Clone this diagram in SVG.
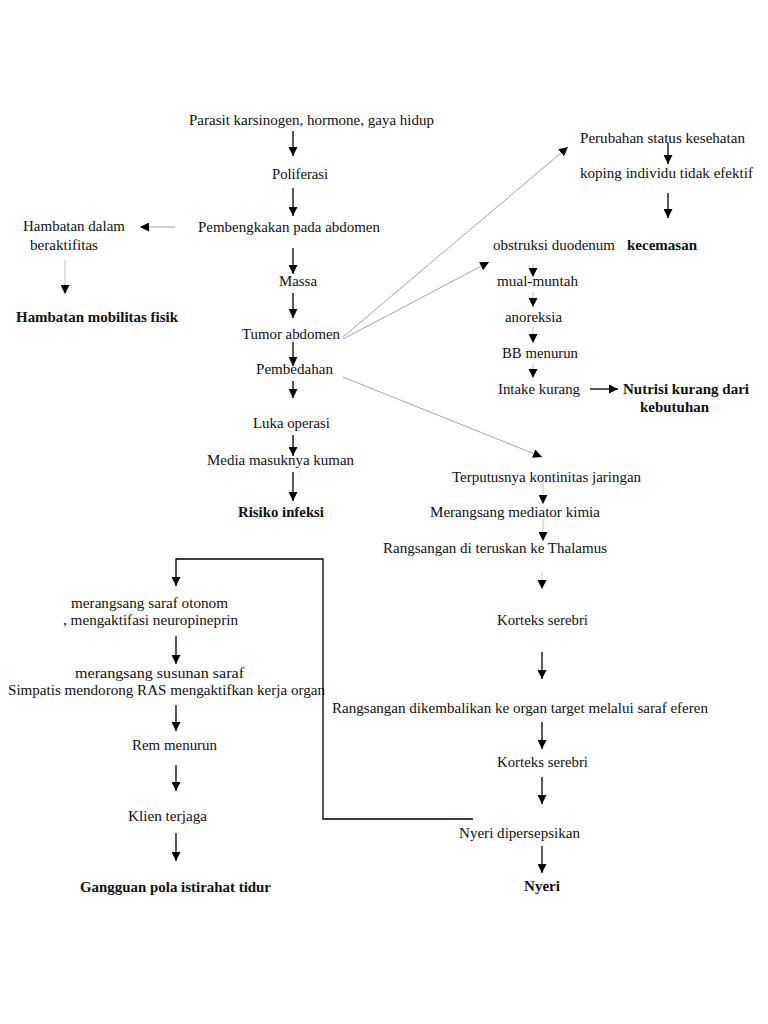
<svg xmlns="http://www.w3.org/2000/svg" width="768" height="1024" viewBox="0 0 768 1024">
<style>
text{font-family:"Liberation Serif","Times New Roman",serif;font-size:14px;fill:#111}
.b{font-weight:bold}
.k{stroke:#000;stroke-width:1.3;fill:none}
.g{stroke:#999;stroke-width:0.9;fill:none}
.lg{stroke:#bbb;stroke-width:0.9;fill:none}
</style>
<defs>
<marker id="ah" markerUnits="userSpaceOnUse" markerWidth="9" markerHeight="9" refX="8" refY="4" orient="auto" viewBox="0 0 8 8">
<path d="M0,0 L8,4 L0,8 z" fill="#000"/>
</marker>
</defs>
<rect width="768" height="1024" fill="#fff"/>

<g id="connectors">
<line class="k" x1="293" y1="131" x2="293" y2="156" marker-end="url(#ah)"/>
<line class="k" x1="293" y1="188" x2="293" y2="216" marker-end="url(#ah)"/>
<line class="g" x1="175" y1="227" x2="140" y2="227" marker-end="url(#ah)"/>
<line class="lg" x1="65" y1="260" x2="65" y2="294" marker-end="url(#ah)"/>
<line class="k" x1="293" y1="248" x2="293" y2="274" marker-end="url(#ah)"/>
<line class="k" x1="293" y1="293" x2="293" y2="318" marker-end="url(#ah)"/>
<line class="k" x1="293" y1="342" x2="293" y2="366" marker-end="url(#ah)"/>
<line class="k" x1="293" y1="381" x2="293" y2="398" marker-end="url(#ah)"/>
<line class="k" x1="293" y1="435" x2="293" y2="456" marker-end="url(#ah)"/>
<line class="k" x1="293" y1="472" x2="293" y2="501" marker-end="url(#ah)"/>
<line class="g" x1="343" y1="337" x2="568" y2="147" marker-end="url(#ah)"/>
<line class="g" x1="343" y1="339" x2="489" y2="262" marker-end="url(#ah)"/>
<line class="g" x1="343" y1="377" x2="542" y2="457" marker-end="url(#ah)"/>
<line class="k" x1="668" y1="143" x2="668" y2="164" marker-end="url(#ah)"/>
<line class="k" x1="668" y1="193" x2="668" y2="218" marker-end="url(#ah)"/>
<line class="lg" x1="533" y1="264" x2="533" y2="277" marker-end="url(#ah)"/>
<line class="lg" x1="533" y1="292" x2="533" y2="307" marker-end="url(#ah)"/>
<line class="lg" x1="533" y1="327" x2="533" y2="343" marker-end="url(#ah)"/>
<line class="lg" x1="533" y1="363" x2="533" y2="378" marker-end="url(#ah)"/>
<line class="k" x1="590" y1="389" x2="618" y2="389" marker-end="url(#ah)"/>
<line class="lg" x1="543" y1="482" x2="543" y2="504" marker-end="url(#ah)"/>
<line class="lg" x1="543" y1="519" x2="543" y2="541" marker-end="url(#ah)"/>
<line class="lg" x1="542" y1="572" x2="542" y2="589" marker-end="url(#ah)"/>
<line class="k" x1="542" y1="652" x2="542" y2="679" marker-end="url(#ah)"/>
<line class="k" x1="542" y1="722" x2="542" y2="749" marker-end="url(#ah)"/>
<line class="k" x1="542" y1="777" x2="542" y2="804" marker-end="url(#ah)"/>
<line class="k" x1="542" y1="846" x2="542" y2="873" marker-end="url(#ah)"/>
<polyline class="k" points="473,819 323,819 323,559 176,559 176,586" marker-end="url(#ah)"/>
<line class="k" x1="176" y1="636" x2="176" y2="664" marker-end="url(#ah)"/>
<line class="k" x1="176" y1="705" x2="176" y2="731" marker-end="url(#ah)"/>
<line class="k" x1="176" y1="765" x2="176" y2="791" marker-end="url(#ah)"/>
<line class="k" x1="176" y1="833" x2="176" y2="861" marker-end="url(#ah)"/>
</g>

<g id="n-parasit"><text x="189" y="125" textLength="245" lengthAdjust="spacingAndGlyphs">Parasit karsinogen, hormone, gaya hidup</text></g>
<g id="n-poliferasi"><text x="272" y="179" textLength="56" lengthAdjust="spacingAndGlyphs">Poliferasi</text></g>
<g id="n-pembengkakan"><text x="198" y="232" textLength="182" lengthAdjust="spacingAndGlyphs">Pembengkakan pada abdomen</text></g>
<g id="n-hambatan"><text x="23" y="231" textLength="102" lengthAdjust="spacingAndGlyphs">Hambatan dalam</text><text x="30" y="250" textLength="68" lengthAdjust="spacingAndGlyphs">beraktifitas</text></g>
<g id="n-mobilitas"><text class="b" x="16" y="322" textLength="162" lengthAdjust="spacingAndGlyphs">Hambatan mobilitas fisik</text></g>
<g id="n-massa"><text x="279" y="286" textLength="38" lengthAdjust="spacingAndGlyphs">Massa</text></g>
<g id="n-tumor"><text x="242" y="339" textLength="98" lengthAdjust="spacingAndGlyphs">Tumor abdomen</text></g>
<g id="n-pembedahan"><text x="256" y="374" textLength="77" lengthAdjust="spacingAndGlyphs">Pembedahan</text></g>
<g id="n-luka"><text x="253" y="428" textLength="77" lengthAdjust="spacingAndGlyphs">Luka operasi</text></g>
<g id="n-media"><text x="207" y="465" textLength="147" lengthAdjust="spacingAndGlyphs">Media masuknya kuman</text></g>
<g id="n-risiko"><text class="b" x="238" y="517" textLength="86" lengthAdjust="spacingAndGlyphs">Risiko infeksi</text></g>

<g id="n-perubahan"><text x="580" y="143" textLength="165" lengthAdjust="spacingAndGlyphs">Perubahan status kesehatan</text></g>
<g id="n-koping"><text x="580" y="178" textLength="173" lengthAdjust="spacingAndGlyphs">koping individu tidak efektif</text></g>
<g id="n-obstruksi"><text x="493" y="250" textLength="122" lengthAdjust="spacingAndGlyphs">obstruksi duodenum</text></g>
<g id="n-kecemasan"><text class="b" x="627" y="250" textLength="70" lengthAdjust="spacingAndGlyphs">kecemasan</text></g>
<g id="n-mual"><text x="497" y="286" textLength="81" lengthAdjust="spacingAndGlyphs">mual-muntah</text></g>
<g id="n-anoreksia"><text x="505" y="322" textLength="57" lengthAdjust="spacingAndGlyphs">anoreksia</text></g>
<g id="n-bb"><text x="502" y="358" textLength="76" lengthAdjust="spacingAndGlyphs">BB menurun</text></g>
<g id="n-intake"><text x="498" y="394" textLength="82" lengthAdjust="spacingAndGlyphs">Intake kurang</text></g>
<g id="n-nutrisi"><text class="b" x="623" y="394" textLength="126" lengthAdjust="spacingAndGlyphs">Nutrisi kurang dari</text><text class="b" x="640" y="412" textLength="69" lengthAdjust="spacingAndGlyphs">kebutuhan</text></g>

<g id="n-terputus"><text x="452" y="482" textLength="189" lengthAdjust="spacingAndGlyphs">Terputusnya kontinitas jaringan</text></g>
<g id="n-mediator"><text x="430" y="517" textLength="170" lengthAdjust="spacingAndGlyphs">Merangsang mediator kimia</text></g>
<g id="n-thalamus"><text x="383" y="553" textLength="224" lengthAdjust="spacingAndGlyphs">Rangsangan di teruskan ke Thalamus</text></g>
<g id="n-korteks1"><text x="497" y="625" textLength="91" lengthAdjust="spacingAndGlyphs">Korteks serebri</text></g>
<g id="n-dikembalikan"><text x="332" y="713" textLength="376" lengthAdjust="spacingAndGlyphs">Rangsangan dikembalikan ke organ target melalui saraf eferen</text></g>
<g id="n-korteks2"><text x="497" y="767" textLength="91" lengthAdjust="spacingAndGlyphs">Korteks serebri</text></g>
<g id="n-dipersepsikan"><text x="459" y="838" textLength="121" lengthAdjust="spacingAndGlyphs">Nyeri dipersepsikan</text></g>
<g id="n-nyeri"><text class="b" x="524" y="891" textLength="36" lengthAdjust="spacingAndGlyphs">Nyeri</text></g>

<g id="n-otonom"><text x="71" y="608" textLength="157" lengthAdjust="spacingAndGlyphs">merangsang saraf otonom</text><text x="63" y="625" textLength="175" lengthAdjust="spacingAndGlyphs">, mengaktifasi neuropineprin</text></g>
<g id="n-simpatis"><text x="75" y="678" textLength="169" lengthAdjust="spacingAndGlyphs">merangsang susunan saraf</text><text x="8" y="695" textLength="317" lengthAdjust="spacingAndGlyphs">Simpatis mendorong RAS mengaktifkan kerja organ</text></g>
<g id="n-rem"><text x="132" y="750" textLength="85" lengthAdjust="spacingAndGlyphs">Rem menurun</text></g>
<g id="n-klien"><text x="128" y="821" textLength="79" lengthAdjust="spacingAndGlyphs">Klien terjaga</text></g>
<g id="n-gangguan"><text class="b" x="80" y="892" textLength="191" lengthAdjust="spacingAndGlyphs">Gangguan pola istirahat tidur</text></g>
</svg>
